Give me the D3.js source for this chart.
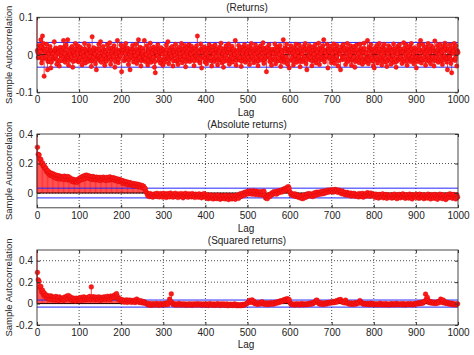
<!DOCTYPE html>
<html><head><meta charset="utf-8">
<script src="https://cdn.jsdelivr.net/npm/d3@7"></script>
<style>
body{margin:0;background:#fff}
svg{display:block}
text{font-family:Arial,"Liberation Sans",sans-serif;fill:#222}
</style>
</head><body>
<svg id="chart" width="474" height="355"></svg>
<script>
// Sample autocorrelations (values x1000). Lag 0 = 1.
const lagZeroValue = 1;
const xTickValues = [0,100,200,300,400,500,600,700,800,900,1000];
const confBound = 0.033;

// Returns: odd lags 1,3,...,999
const returnsAcfOdd = [
12,-8,25,18,40,-22,50,30,-57,15,-10,28,-40,5,-18,22,-35,10,3,-12,35,-6,18,-25,8,14,-30,20,-4,11,-15,38,6,-20,26,-9,40,-28,4,17,-11,22,-33,9,-2,30,-16,7,24,-19,
-14,20,6,-27,15,-5,30,-22,10,2,-18,25,-8,13,-31,48,-12,19,4,-24,-40,16,-6,28,-15,35,-20,8,22,-3,-28,12,-17,27,1,-10,32,-25,9,18,-7,24,-33,5,14,38,-21,11,-4,26,
-45,10,22,-16,7,30,-12,18,-26,4,-40,15,-8,25,-19,12,-3,28,-23,9,40,-14,20,-30,6,17,-10,38,-18,2,24,-27,13,-6,31,-20,8,-12,21,-33,-48,16,-4,27,-15,11,-22,19,3,-28,
14,-20,8,26,-11,35,-24,5,18,-7,22,-30,12,-2,28,-17,9,-26,20,4,-13,30,-21,15,-6,25,-32,7,19,-10,27,-18,3,23,-14,11,-29,17,-5,24,50,-16,10,-22,29,-35,13,-8,21,-19,
6,-24,18,-9,27,-15,12,-30,22,3,-18,26,-7,15,-27,9,20,-12,31,-21,5,-33,16,-4,24,-16,10,29,-25,7,-11,23,-19,14,2,38,-28,11,-6,25,-14,19,-31,8,21,-10,27,-20,4,17,
-13,22,-26,9,30,-8,16,-21,4,26,-17,11,-29,19,-5,24,-14,7,32,-23,13,-9,-45,20,-3,27,-18,10,-28,15,6,-12,29,-24,8,21,-16,2,25,-31,12,-7,40,-20,18,-11,28,-25,14,-35,
10,24,-15,7,-27,19,-4,28,-20,12,-9,26,-32,15,3,-18,22,-11,30,-24,-40,17,-6,25,-14,9,-29,21,2,-17,27,-22,13,-8,31,-26,6,19,-12,24,40,-19,11,-5,28,-35,16,-10,23,-21,
8,-16,29,-23,14,-7,25,-30,10,3,-40,21,-13,27,-9,18,-26,6,30,-18,12,-4,24,-28,15,-11,22,-33,9,26,-15,5,-21,28,-8,17,-25,11,31,-19,7,-12,38,-24,20,-6,27,-16,13,-29,
-35,18,-10,25,-22,9,30,-15,4,-27,21,-8,28,-19,13,-31,7,24,-12,19,-25,11,-4,29,-20,16,-33,6,23,-14,27,-9,15,-23,10,32,-17,3,26,-28,12,-6,22,-18,30,-11,8,-24,19,-13,
-35,14,-18,26,-9,38,-22,11,27,-14,6,-28,20,-5,30,-17,13,-24,24,-10,18,-30,37,-12,9,25,-20,4,28,-16,12,-26,22,-7,31,25,-19,-40,15,-11,27,-23,-48,8,19,30,-15,24,-30,10
];
// Returns: even lags 2,4,...,1000
const returnsAcfEven = [
6,-4,14,9,22,-12,-8,17,12,8,-5,15,-18,3,-10,12,-20,5,2,-7,14,-3,10,-14,4,8,-17,11,-2,6,-8,20,3,-11,14,-5,-10,-15,2,9,-6,12,-18,5,-1,16,-9,4,13,-10,
-8,11,3,-15,8,-3,16,-12,5,1,-10,14,-4,7,-17,6,-7,10,2,-13,12,9,-3,15,-8,-5,-11,4,12,-2,-15,7,-9,15,1,-6,17,-14,5,10,-4,13,-18,3,8,-9,-12,6,-2,14,
11,5,12,-9,4,16,-7,10,-14,2,9,8,-4,14,-10,7,-2,15,-13,5,-6,-8,11,-16,3,9,-6,-12,-10,1,13,-15,7,-3,17,-11,4,-7,12,-18,8,9,-2,15,-8,6,-12,10,2,-15,
8,-11,4,14,-6,-9,-13,3,10,-4,12,-16,7,-1,15,-9,5,-14,11,2,-7,16,-12,8,-3,14,-18,4,10,-6,15,-10,2,13,-8,6,-16,9,-3,13,-5,-9,6,-12,16,10,7,-4,12,-10,
3,-13,10,-5,15,-8,7,-17,12,2,-10,14,-4,8,-15,5,11,-7,17,-12,3,-18,9,-2,13,-9,6,16,-14,4,-6,13,-10,8,1,-11,-15,6,-3,14,-8,10,-17,4,12,-6,15,-11,2,9,
-7,12,-14,5,16,-4,9,-12,2,14,-9,6,-16,10,-3,13,-8,4,18,-13,7,-5,10,11,-2,15,-10,6,-15,8,3,-7,16,-13,4,12,-9,1,14,-17,7,-4,-8,-11,10,-6,15,-14,8,12,
5,13,-8,4,-15,10,-2,15,-11,7,-5,14,-18,8,2,-10,12,-6,16,-13,9,9,-3,14,-8,5,-16,12,1,-9,15,-12,7,-4,17,-14,3,10,-7,13,-6,-10,6,-3,15,11,9,-5,13,-12,
4,-9,16,-13,8,-4,14,-16,5,2,12,12,-7,15,-5,10,-14,3,16,-10,7,-2,13,-15,8,-6,12,-18,5,14,-8,3,-12,15,-4,9,-14,6,17,-10,4,-7,-9,-13,11,-3,15,-9,7,-16,
8,10,-6,14,-12,5,16,-8,2,-15,12,-4,15,-10,7,-17,4,13,-7,10,-14,6,-2,16,-11,9,-18,3,13,-8,15,-5,8,-13,6,17,-9,2,14,-15,7,-3,12,-10,16,-6,4,-13,10,-7,
-6,8,-10,14,-5,-12,-12,6,15,-8,3,-15,11,-3,16,-9,7,-13,13,-6,10,-16,9,-7,5,14,-11,2,15,-9,7,-14,12,-4,17,-8,-10,11,8,-6,15,-13,7,4,10,-12,-8,13,4,6
];

// Absolute returns: lags 1,3,...,999
const absReturnsAcf = [
310,262,258,230,228, 200,205,182,186,165,
168,145,152,132,142,120,135,118,132,110, 125,105,122,98,118,102,116,95,112,100,
110,92,115,96,108,90,112,94,106,88, 96,80,94,75,90,78,86,72,92,84,
100,88,108,92,112,96,118,100,122,106, 118,100,114,96,110,92,112,94,104,90,
108,92,104,88,106,86,102,94,108,90, 100,86,106,90,104,88,110,92,102,94,
104,88,100,84,96,82,94,78,90,80, 86,70,82,66,78,62,76,58,72,62,
70,54,66,52,64,48,62,50,60,46, 58,44,54,40,52,36,46,34,30,10,
-2,-18,-6,-24,-4,-20,-12,-28,-8,-22, -6,-20,-2,-24,-10,-26,-4,-18,-8,-28,
-2,-20,-12,-30,-4,-22,-8,-26,0,-18, -10,-28,-6,-22,-2,-24,-12,-30,-6,-16,
-22,-4,-18,-32,-8,-20,-2,-24,-14,-28, -6,-20,-10,-26,-4,-22,-12,-30,-8,-18,
-14,-28,-6,-24,-16,-32,-10,-22,-4,-26, -20,-34,-12,-38,-18,-30,-14,-36,-22,-40,
-16,-32,-24,-38,-14,-34,-20,-42,-26,-36, -18,-36,-22,-40,-16,-32,-26,-44,-20,-34,
-28,-40,-18,-34,-24,-42,-16,-30,-22,-36, -8,-24,-4,-20,-2,-16,4,-12,8,-4,
10,-6,14,-2,8,-8,16,-4,10,-10, 12,-6,8,-12,4,10,-14,6,-8,12,
-16,-34,-26,-38,-20,-12,-24,-6,-14,2, -6,10,-4,8,-8,12,2,16,4,14,
20,8,26,14,30,22,36,26,44,30, 6,-10,-4,-16,-8,-20,-6,-22,-12,-26,
-16,-30,-20,-34,-24,-38,-14,-32,-20,-28, -8,-22,-4,-18,-6,-20,-10,-24,-2,-16,
2,-14,6,-10,4,-8,8,-6,10,-4, 12,-2,14,4,18,6,20,8,16,22,
18,6,22,10,24,12,18,4,20,8, 10,-4,14,-6,6,-10,2,-14,4,-8,
-4,-18,0,-20,-6,-16,-2,-22,-8,-14, -10,-26,-4,-24,-8,-20,-2,-28,-12,-18,
-4,-20,2,-16,-6,-22,0,-18,-8,-14, -12,-30,-8,-26,-16,-34,-10,-28,-14,-24,
-6,-32,-18,-28,-10,-36,-14,-26,-20,-30, -12,-34,-16,-30,-8,-28,-20,-38,-14,-26,
-10,-32,-18,-24,-6,-30,-16,-36,-12,-28, -20,-34,-8,-26,-14,-40,-12,-24,-18,-30,
-10,-28,-16,-36,-8,-32,-20,-26,-12,-38, -14,-30,-22,-34,-8,-28,-18,-40,-12,-24,
-16,-36,-10,-30,-20,-42,-14,-26,-8,-32, -18,-38,-12,-28,-22,-44,-16,-34,-10,-30,
-6,-26,-14,-36,-10,-30,-20,-40,-12,-28
];

// Squared returns: lags 1,3,...,999
const sqReturnsAcf = [
290,222,205,150,160, 110,125,85,100,70,
80,52,75,45,68,40,72,38,62,44, 58,32,66,40,55,28,62,36,50,42,
48,30,60,38,56,70,44,75,50,62, 40,28,52,34,46,24,50,30,44,36,
52,34,58,30,48,62,40,55,36,44, 58,42,66,38,155,50,64,36,54,60,
42,58,36,62,48,30,56,40,60,44, 62,40,56,68,44,60,38,70,50,64,
72,58,80,60,92,66,50,36,44,28, 36,18,32,14,30,16,34,12,26,32,
16,30,12,26,18,32,10,24,42,22, 14,28,10,24,8,20,4,16,8,2,
-4,-12,2,-14,-6,-16,0,-12,-4,-14, -8,2,-12,-4,-16,-6,0,-14,-2,-10,
-6,-12,4,-8,2,-10,12,42,22,90, 8,-8,-2,-12,-4,-14,-6,-10,2,-12,
-6,-14,-2,-8,-12,-4,-16,-6,-10,-14, -2,-8,-14,-4,-16,-10,-2,-12,-6,-14,
0,-10,-6,-14,-2,-12,-16,-4,-10,-8, -14,-4,-10,-18,-6,0,-12,-8,-16,-4,
-10,-16,-6,-12,0,-14,-8,-18,-4,-12, -12,-2,-16,-8,-14,-4,-20,-10,-16,-6,
-14,-8,-18,-10,-4,-16,-8,-20,-12,-16, -18,-10,-20,-12,-8,-16,-12,-6,-2,2,
8,18,30,12,24,34,10,22,0,8, -4,6,-8,2,8,-4,12,16,4,-6,
2,-8,6,-4,-10,4,-6,8,-2,-6, 6,-4,10,2,14,6,18,10,22,26,
18,28,22,36,30,42,32,45,28,36, 8,-4,-10,-2,-12,-6,-14,-4,-10,-2,
-8,-14,-4,-10,0,-8,-12,-2,-8,-6, -10,-2,0,-8,4,-4,6,-2,8,10,
18,30,32,14,4,-4,8,-6,4,-8, 2,-6,6,-4,8,2,10,4,14,6,
14,8,18,10,22,14,28,18,34,28, 38,22,18,10,20,6,32,12,4,2,
-4,6,-6,4,-8,0,-4,8,-6,0, 6,12,4,28,16,8,2,-6,2,-4,
-2,-8,2,-6,-10,-2,4,-8,0,-10, -6,-10,-2,-8,-12,-2,-10,2,-6,-12,
-2,-8,-12,0,-10,-4,-12,-6,-14,-2, -8,0,-10,-4,-12,-6,2,-10,-2,-8,
-10,-2,-6,-12,0,-8,-4,-14,-8,-2, -6,-10,0,-8,-4,-12,-2,-10,-6,2,
-4,4,-2,6,0,10,2,12,4,16, 22,88,42,58,30,10,20,6,16,4,
12,2,10,0,14,4,18,8,22,42, 26,10,32,6,16,2,12,0,8,-4,
2,-6,4,-8,-2,-10,-4,-12,-6,-2
];

const panels = [
  {title:"(Returns)", series:[{vals:returnsAcfOdd, first:1, step:2}, {vals:returnsAcfEven, first:2, step:2}],
   dom:[-0.1,0.1], ticks:[-0.1,0,0.1], top:17.3, bottom:92.3, titleY:7, lagY:112, r:2.2},
  {title:"(Absolute returns)", series:[{vals:absReturnsAcf, first:1, step:2}],
   dom:[-0.1,0.4], ticks:[0,0.2,0.4], top:134, bottom:207.8, titleY:124, lagY:228, r:2.4},
  {title:"(Squared returns)", series:[{vals:sqReturnsAcf, first:1, step:2}],
   dom:[-0.2,0.5], ticks:[-0.2,0,0.2,0.4], top:250, bottom:325, titleY:240, lagY:344, r:2.4}
];

const svg = d3.select("#chart");
const left = 37, right = 458;
const x = d3.scaleLinear().domain([0,1000]).range([left,right]);
const fmt = d => d === 0 ? "0" : String(d);

panels.forEach((p, pi) => {
  const y = d3.scaleLinear().domain(p.dom).range([p.bottom, p.top]);
  let pts = [{lag:0, v:lagZeroValue}];
  p.series.forEach(s => { pts = pts.concat(s.vals.map((v,i) => ({lag:s.first + i*s.step, v:v/1000}))); });
  pts.sort((a,b) => a.lag - b.lag);
  const g = svg.append("g");
  const clipId = "clip" + pi;
  svg.append("clipPath").attr("id", clipId).append("rect")
    .attr("x", left - 3).attr("y", p.top).attr("width", right - left + 6).attr("height", p.bottom - p.top);

  // grid
  g.selectAll(".gx").data(xTickValues.slice(1,-1)).join("line")
    .attr("x1", d => x(d)).attr("x2", d => x(d)).attr("y1", p.top).attr("y2", p.bottom)
    .attr("stroke", "#222").attr("stroke-width", 0.8).attr("stroke-dasharray", "1,2");
  g.selectAll(".gy").data(p.ticks.filter(t => t > p.dom[0] && t < p.dom[1])).join("line")
    .attr("x1", left).attr("x2", right).attr("y1", d => y(d)).attr("y2", d => y(d))
    .attr("stroke", "#222").attr("stroke-width", 0.8).attr("stroke-dasharray", "1,2");

  const plot = g.append("g").attr("clip-path", `url(#${clipId})`);
  // stems
  plot.selectAll(".stem").data(pts).join("line")
    .attr("x1", d => x(d.lag)).attr("x2", d => x(d.lag))
    .attr("y1", y(0)).attr("y2", d => y(d.v))
    .attr("stroke", "#ff1010").attr("stroke-width", 0.8);
  // baseline
  plot.append("line").attr("x1", left).attr("x2", right).attr("y1", y(0)).attr("y2", y(0))
    .attr("stroke", "#300").attr("stroke-width", 1);
  // confidence bounds
  plot.selectAll(".cb").data([confBound, -confBound]).join("line")
    .attr("x1", left).attr("x2", right).attr("y1", d => y(d)).attr("y2", d => y(d))
    .attr("stroke", "#2525ff").attr("stroke-width", 1);
  // markers
  plot.selectAll(".mk").data(pts).join("circle")
    .attr("cx", d => x(d.lag)).attr("cy", d => y(d.v)).attr("r", p.r)
    .attr("fill", "#ff1a1a").attr("stroke", "#d40000").attr("stroke-width", 0.4);

  // box
  g.append("rect").attr("x", left).attr("y", p.top).attr("width", right - left).attr("height", p.bottom - p.top)
    .attr("fill", "none").attr("stroke", "#333").attr("stroke-width", 0.9);

  // axes
  const ax = g.append("g").attr("transform", `translate(0,${p.bottom})`)
    .call(d3.axisBottom(x).tickValues(xTickValues).tickFormat(d => String(d)).tickSize(-3).tickPadding(4));
  const ay = g.append("g").attr("transform", `translate(${left},0)`)
    .call(d3.axisLeft(y).tickValues(p.ticks).tickFormat(fmt).tickSize(-3).tickPadding(4));
  const axT = g.append("g").attr("transform", `translate(0,${p.top})`)
    .call(d3.axisTop(x).tickValues(xTickValues).tickFormat("").tickSize(-3));
  const ayR = g.append("g").attr("transform", `translate(${right},0)`)
    .call(d3.axisRight(y).tickValues(p.ticks).tickFormat("").tickSize(-3));
  [ax, ay, axT, ayR].forEach(a => {
    a.select(".domain").remove();
    a.selectAll(".tick line").attr("stroke", "#333");
    a.selectAll("text").attr("font-size", 10).attr("fill", "#222")
      .style("font-family", "Arial, 'Liberation Sans', sans-serif");
  });

  // title and labels
  g.append("text").attr("x", 247).attr("y", p.titleY).attr("dy", "0.35em")
    .attr("text-anchor", "middle").attr("font-size", 10).text(p.title);
  g.append("text").attr("x", 246).attr("y", p.lagY).attr("dy", "0.35em")
    .attr("text-anchor", "middle").attr("font-size", 10).text("Lag");
  g.append("text").attr("transform", `translate(9,${(p.top + p.bottom) / 2}) rotate(-90)`)
    .attr("dy", "0.35em").attr("text-anchor", "middle").attr("font-size", 9.5).text("Sample Autocorrelation");
});
</script>
</body></html>
